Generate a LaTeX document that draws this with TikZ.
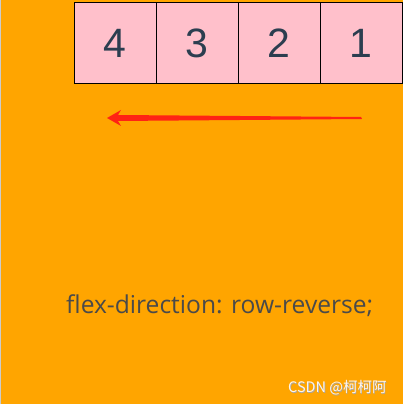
\documentclass[tikz,border=0pt]{standalone}
\usepackage{fontspec}
\setmainfont{Liberation Sans}
\newfontfamily\labelfont{Open Sans}
\newfontfamily\cjkfont{Noto Sans CJK SC}
\definecolor{bgorange}{HTML}{FFA500}
\definecolor{boxpink}{HTML}{FFC0CB}
\definecolor{numcol}{HTML}{2C3E50}
\definecolor{txtcol}{HTML}{4A4A4A}
\definecolor{arrowred}{HTML}{FF2314}
\tikzset{
  x=1pt,y=1pt,
  itembox/.style={draw=black,line width=1.5pt,fill=boxpink,minimum width=82pt,minimum height=81pt,inner sep=0pt,anchor=north west,font=\fontsize{41}{41}\selectfont,text=numcol},
  wmtext/.style={font=\cjkfont\fontsize{14.5}{14.5}\selectfont,anchor=base west,inner sep=0pt},
}
\begin{document}
\begin{tikzpicture}
\fill[bgorange] (0,0) rectangle (403,404);
\useasboundingbox (0,0) rectangle (403,404);
\draw[gray!40,line width=1pt] (0.5,0) -- (0.5,404);
\node[itembox] (b4) at (73.5,402) {4};
\node[itembox] (b3) at (155.5,402) {3};
\node[itembox] (b2) at (237.5,402) {2};
\node[itembox] (b1) at (319.5,402) {1};
\fill[arrowred] (107,286) -- (121,294) -- (118,289) -- (361,287) -- (362,285) -- (118,283) -- (121,278) -- cycle;
\node[font=\labelfont\fontsize{24.6}{24.6}\selectfont,text=txtcol,anchor=base west,inner sep=0pt] (lbl) at (66,90) {flex-direction: row-reverse;};
\node[wmtext,text=gray!70] at (288.6,10.4) {CSDN @柯柯阿};
\node[wmtext,text=white!92!orange] (wm) at (288,11) {CSDN @柯柯阿};
\end{tikzpicture}
\end{document}
